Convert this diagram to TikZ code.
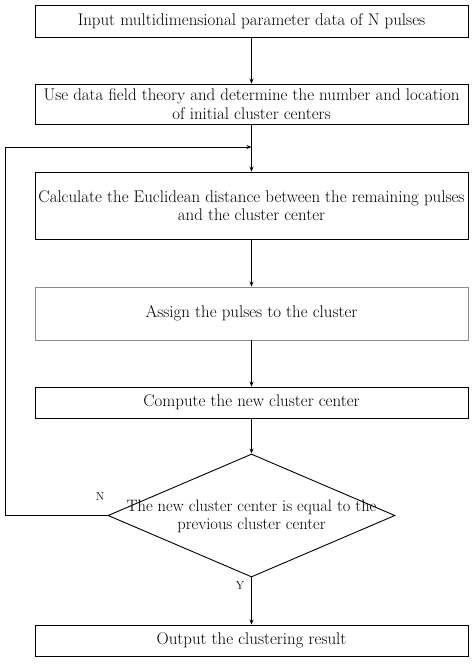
\documentclass[tikz,border=0pt]{standalone}
\usetikzlibrary{shapes.geometric,arrows.meta}
\begin{document}
\begin{tikzpicture}[x=1pt,y=-1pt,
  box/.style={draw, line width=0.9pt, minimum width=433pt, inner sep=1pt, align=center, font=\fontsize{16.9}{18.5}\selectfont},
  arr/.style={line width=0.9pt, -{Stealth[length=5pt,width=4pt]}},
  lbl/.style={font=\fontsize{11.5}{13}\selectfont, inner sep=0pt}]
\useasboundingbox (0,0) rectangle (474,665);
\node[box, minimum height=32pt] (b1) at (251.5,21) {Input multidimensional parameter data of N pulses};
\node[box, minimum height=40pt] (b2) at (251.5,104) {Use data field theory and determine the number and location\\of initial cluster centers};
\node[box, minimum height=67pt] (b3) at (251.5,205.5) {Calculate the Euclidean distance between the remaining pulses\\and the cluster center};
\node[box, draw=black!45, minimum height=53pt] (b4) at (251.5,313.5) {Assign the pulses to the cluster};
\node[box, minimum height=31pt] (b5) at (251.5,402.5) {Compute the new cluster center};
\node[diamond, draw, line width=0.9pt, minimum width=287pt, minimum height=123pt, inner sep=0pt, shape aspect=2.33] (d) at (251.5,515.5) {};
\node[align=center, font=\fontsize{16.5}{17.5}\selectfont, inner sep=0pt] (dt) at (251.5,516.5) {The new cluster center is equal to the\\previous cluster center};
\node[box, minimum height=31pt] (b6) at (251.5,640.5) {Output the clustering result};
\node[lbl] (n) at (100,497) {N};
\node[lbl] (y) at (240,586) {Y};
\coordinate (lc) at (5,147);
\coordinate (le) at (251.5,147);
\draw[arr] (b1.south) -- (b2.north);
\draw[arr] (b2.south) -- (b3.north);
\draw[arr] (b3.south) -- (b4.north);
\draw[arr] (b4.south) -- (b5.north);
\draw[arr] (b5.south) -- (d.north);
\draw[arr] (d.south) -- (b6.north);
\draw[arr] (d.west) -| (lc) -- (le);
\end{tikzpicture}
\end{document}
